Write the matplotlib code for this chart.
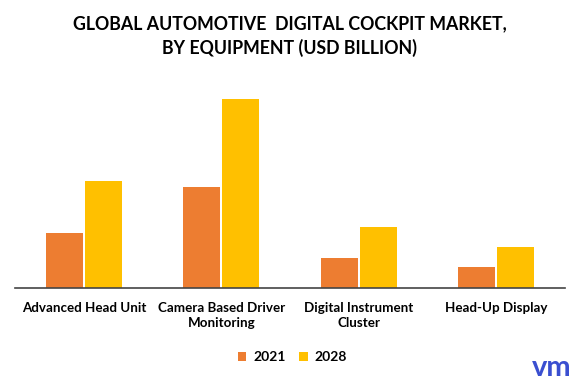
import numpy as np
import matplotlib.pyplot as plt

plt.rcParams['font.family'] = ['Lato', 'DejaVu Sans']

# Data (USD billion, approximate)
categories = ['Advanced Head Unit', 'Camera Based Driver\nMonitoring',
              'Digital Instrument\nCluster', 'Head-Up Display']
values_2021 = [2.75, 5.05, 1.5, 1.05]
values_2028 = [5.35, 9.45, 3.05, 2.05]
series_labels = ['2021', '2028']
colors = ['#ED7D31', '#FFC000']

fig = plt.figure(figsize=(5.79, 3.81), dpi=100)
ax = fig.add_axes([0.026, 0.244, 0.950, 0.52])

x = np.arange(len(categories))
w = 0.27
ax.bar(x - w / 2 - 0.007, values_2021, w, color=colors[0], label=series_labels[0])
ax.bar(x + w / 2 + 0.007, values_2028, w, color=colors[1], label=series_labels[1])

ax.set_xlim(-0.5, 3.5)
ax.set_ylim(0, 9.45 * 198 / 189)
for s in ['top', 'right', 'left']:
    ax.spines[s].set_visible(False)
ax.spines['bottom'].set_color('#444444')
ax.spines['bottom'].set_linewidth(1.2)
ax.set_yticks([])
ax.set_xticks(x)
ax.set_xticklabels(categories, fontsize=9.6, fontweight='bold', linespacing=1.35)
ax.tick_params(axis='x', length=0, pad=10)

fig.text(0.5, 0.906, 'GLOBAL AUTOMOTIVE  DIGITAL COCKPIT MARKET,\nBY EQUIPMENT (USD BILLION)',
         ha='center', va='center', fontsize=12.8, fontweight='bold', linespacing=1.45)

fig.legend(loc='center', bbox_to_anchor=(0.505, 0.062), ncol=2, frameon=False,
           prop={'weight': 'bold', 'size': 10}, handlelength=0.6,
           handleheight=0.6, handletextpad=0.5, columnspacing=1.0)

# logo
fig.text(0.952, 0.035, 'vm', ha='center', va='center', fontsize=21,
         color='#3A4FD0', fontweight='bold')

fig.savefig('out.png', dpi=100)
